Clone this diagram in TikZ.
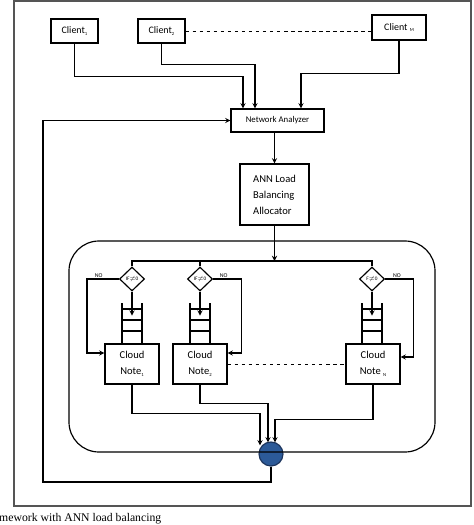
\documentclass[tikz,border=0pt]{standalone}
\usepackage{fontspec}
\setmainfont{Carlito}
\newfontfamily\captionfont{Liberation Serif}
\usetikzlibrary{shapes, arrows, positioning, backgrounds}
\usetikzlibrary{shapes.geometric}
\newcommand{\idx}[1]{\raisebox{-0.35ex}{\fontsize{4}{4}\selectfont #1}}
\definecolor{hubblue}{RGB}{44,90,152}
\definecolor{hubedge}{RGB}{28,52,92}
\definecolor{framegray}{RGB}{85,85,85}

\begin{document}
\begin{tikzpicture}[x=0.03cm, y=-0.03cm,
    % Stili per i blocchi
    box/.style={rectangle, draw, line width=1pt, inner sep=0pt},
    client/.style={box, minimum width=1.41cm, minimum height=0.72cm, font=\fontsize{8.5}{10}\selectfont},
    analyzer/.style={box, minimum width=2.79cm, minimum height=0.69cm, font=\fontsize{7.5}{9}\selectfont},
    allocator/.style={box, minimum width=2.07cm, minimum height=1.83cm, align=left, font=\fontsize{9}{13.6}\selectfont},
    cloudnote/.style={box, minimum width=1.62cm, minimum height=1.2cm, align=center, font=\fontsize{9}{13.5}\selectfont},
    decision/.style={diamond, draw, line width=1pt, inner sep=0pt, minimum width=0.75cm, minimum height=0.72cm, font=\fontsize{4.5}{5}\selectfont},
    cluster/.style={rectangle, draw, line width=1pt, rounded corners=0.9cm, minimum width=10.98cm, minimum height=6.33cm},
    hub/.style={circle, draw=hubedge, line width=1pt, fill=hubblue, minimum size=0.72cm, inner sep=0pt},
    % Stili per le connessioni
    flow/.style={->, line width=1pt, >=stealth},
    link/.style={line width=1pt},
    spare/.style={thin, dashed},
    notext/.style={font=\fontsize{5}{6}\selectfont, inner sep=1pt}
]
\useasboundingbox (0,0) rectangle (474,525);

% === CORNICE ===
\draw[framegray, line width=1.3pt] (14,1) rectangle (471,506);

% === CLIENT ===
\node[client] (client1) at (74.5,31) {Client\idx{1}};
\node[client] (client2) at (161.5,31) {Client\idx{2}};
\node[client, minimum width=1.62cm, minimum height=0.75cm] (clientM) at (399,27.5) {Client \idx{M}};

% === ANALISI E ALLOCAZIONE ===
\node[analyzer] (analyzer) at (277.5,120.5) {Network Analyzer};
\node[allocator] (ann) at (274.5,194.5) {ANN Load\\Balancing\\Allocator};

% === NODI CLOUD ===
\node[hub] (hub) at (271,454) {};
\node[cluster] (cloudarea) at (252,346.5) {};
\node[decision] (dec1) at (132,279) {IF$\neq$0};
\node[decision] (dec2) at (200,279) {IF$\neq$0};
\node[decision] (dec3) at (372,279) {F$\neq$0};
\node[cloudnote] (note1) at (132,364) {Cloud\\Note\idx{1}};
\node[cloudnote] (note2) at (200,364) {Cloud\\Note\idx{2}};
\node[cloudnote] (noteN) at (373,364) {Cloud\\Note \idx{N}};
\coordinate (split) at (274.5,261);
\coordinate (loopcorner) at (43,482);

% code (ladder)
\foreach \q in {132,200,372} {
    \draw[link] (\q-10,303) -- (\q-10,344);
    \draw[link] (\q+10,303) -- (\q+10,344);
    \foreach \r in {309,320,331}
        \draw[link] (\q-10,\r) -- (\q+10,\r);
}

% === CONNESSIONI ===
% Client -> Network Analyzer
\draw[flow] (client1.south) -- ++(0,33) -| ([xshift=-1.035cm]analyzer.north);
\draw[flow] (client2.south) -- ++(0,21) -| ([xshift=-0.675cm]analyzer.north);
\draw[flow] (clientM.south) -- ++(0,33) -| ([xshift=0.705cm]analyzer.north);
\draw[spare] (client2.east) -- (client2.east -| clientM.west);

% Analyzer -> Allocator -> code
\draw[flow] (analyzer.south -| ann.north) -- (ann.north);
\draw[flow] (ann.south) -- (split);
\draw[link] (dec1.north) |- (split) -| (dec3.north);
\draw[link] (dec2.north) -- (dec2.north |- split);
\draw[flow] (dec1.south) -- ++(0,24);
\draw[flow] (dec2.south) -- ++(0,24);
\draw[flow] (dec3.south) -- ++(0,24);

% Rami NO
\draw[flow] (dec1.west) -- node[notext, above, pos=0.63] {NO} ++(-32,0) |- ([yshift=0.33cm]note1.west);
\draw[flow] (dec2.east) -- node[notext, above, pos=0.38] {NO} ++(28,0) |- ([yshift=0.33cm]note2.east);
\draw[flow] (dec3.east) -- node[notext, above, pos=0.42] {NO} ++(28,0) |- ([yshift=0.21cm]noteN.east);
\draw[spare] (note2.east) -- (noteN.west);

% Cloud -> hub
\draw[flow] (note1.south) -- ++(0,29) -| ([xshift=-0.33cm, yshift=-0.12cm]hub.north);
\draw[flow] (note2.south) -- ++(0,19) -| ([xshift=-0.09cm, yshift=-0.03cm]hub.north);
\draw[flow] (noteN.south) -- ++(0,35) -| ([xshift=0.12cm, yshift=-0.03cm]hub.north);

% Retroazione
\draw[flow] (hub.south) -- (hub.south |- loopcorner) -- (loopcorner) |- (analyzer.west);

% === DIDASCALIA ===
\node[font=\captionfont\fontsize{10}{12}\selectfont, anchor=base west, inner sep=0pt] (caption) at (-1,521) {mework with ANN load balancing};

\end{tikzpicture}
\end{document}
